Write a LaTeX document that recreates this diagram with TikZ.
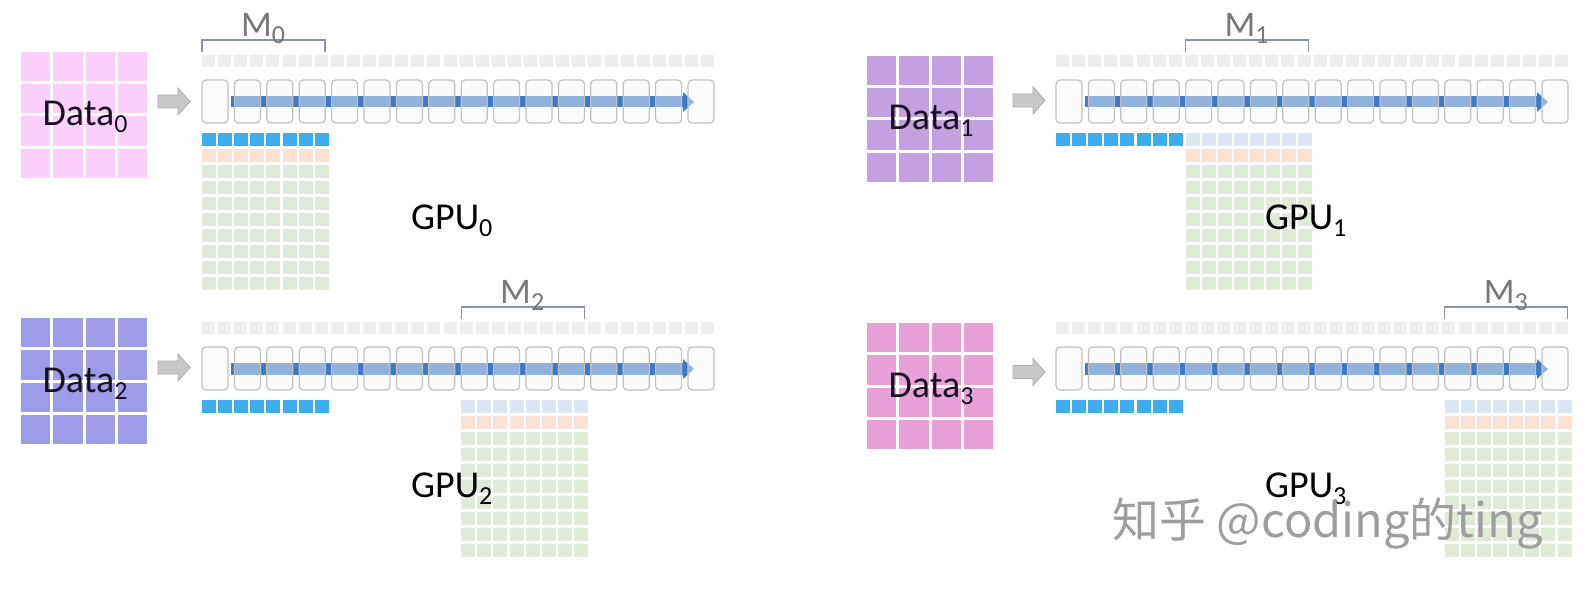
\documentclass[tikz,border=0pt]{standalone}
\usepackage{fontspec}
\setmainfont{Carlito}
\newfontfamily\cjkfont{Noto Sans CJK SC}
\usetikzlibrary{arrows.meta}
\definecolor{dataA}{RGB}{252,208,252}
\definecolor{dataB}{RGB}{196,160,224}
\definecolor{dataC}{RGB}{156,156,232}
\definecolor{dataD}{RGB}{232,160,216}
\definecolor{stripgray}{RGB}{238,238,238}
\definecolor{boxborder}{RGB}{192,192,192}
\definecolor{boxfill}{RGB}{247,247,247}
\definecolor{bandblue}{RGB}{62,122,196}
\definecolor{brightblue}{RGB}{60,174,240}
\definecolor{paleblue}{RGB}{220,230,242}
\definecolor{peach}{RGB}{252,226,210}
\definecolor{palegreen}{RGB}{224,234,216}
\definecolor{bracketcol}{RGB}{138,148,168}
\definecolor{mgray}{RGB}{120,120,120}
\definecolor{arrowgray}{RGB}{200,200,200}
\definecolor{arrowedge}{RGB}{172,172,172}
\definecolor{textdark}{RGB}{25,15,35}
\definecolor{wmgray}{RGB}{158,158,158}
\tikzset{
  boxst/.style={draw=boxborder, line width=1.2pt, rounded corners=4pt, fill=boxfill, fill opacity=0.45, minimum width=26pt, minimum height=43pt, inner sep=0pt},
  bigtext/.style={font=\fontsize{38}{42}\selectfont, inner sep=0pt},
  mtext/.style={font=\fontsize{36}{40}\selectfont, inner sep=0pt},
  bandst/.style={draw=bandblue, line width=11pt, -{Triangle[length=11pt,width=19pt]}},
  bracketst/.style={draw=bracketcol, line width=1.3pt},
  garrow/.style={fill=arrowgray, draw=arrowedge, line width=0.8pt},
}
\newcommand{\subdig}[1]{\raisebox{-7pt}{\fontsize{26}{26}\selectfont #1}}
% #1 px, #2 py, #3 k, #4 data colour, #5 data x, #6 data y, #7 arrow x, #8 arrow y, #9 index
\newcommand{\drawpanel}[9]{%
  \pgfmathsetmacro{\mx}{#1+4*#3*32.4}%
  % data square
  \foreach \i in {0,...,3}{\foreach \j in {0,...,3}{
    \fill[#4] ({#5+\i*32.25},{#6+\j*32.25}) rectangle ++(29.25,29.25);}}
  \node[bigtext, text=textdark, anchor=base] (data#9) at ({#5+64},{#6+74}) {Data\subdig{#9}};
  % gray block arrow
  \path[garrow] (#7,{#8-6.5}) -- ({#7+20},{#8-6.5}) -- ({#7+20},{#8-13.5}) -- ({#7+32},#8)
     -- ({#7+20},{#8+13.5}) -- ({#7+20},{#8+6.5}) -- (#7,{#8+6.5}) -- cycle;
  % top strip
  \foreach \j in {0,...,31}{\fill[stripgray] ({#1+\j*16.1},{#2+55}) rectangle ++(13,12);}
  % band
  \coordinate (s#9) at ({#1+29},{#2+102});
  \coordinate (e#9) at ({#1+492},{#2+102});
  \draw[bandst] (s#9) -- (e#9);
  % boxes
  \foreach \i in {0,...,15}{\node[boxst] (b#9-\i) at ({#1+\i*32.4+13},{#2+101.5}) {};}
  % bracket and label
  \draw[bracketst] (\mx,{#2+52}) -- (\mx,{#2+40}) -- ({\mx+123},{#2+40}) -- ({\mx+123},{#2+52});
  \node[mtext, text=mgray, anchor=base] (m#9) at ({\mx+61},{#2+37}) {M\subdig{#9}};
  % bright blue row
  \foreach \j in {0,...,7}{\fill[brightblue] ({#1+\j*16.1},{#2+133}) rectangle ++(14,13);}
  \ifnum#3>0 \foreach \j in {0,...,7}{\fill[paleblue] ({\mx+\j*16.1},{#2+133}) rectangle ++(14,13);}\fi
  \foreach \j in {0,...,7}{\fill[peach] ({\mx+\j*16.1},{#2+149}) rectangle ++(14,13);}
  \foreach \r in {0,...,7}{\foreach \j in {0,...,7}{
    \fill[palegreen] ({\mx+\j*16.1},{#2+165+\r*16}) rectangle ++(14,13);}}
  \node[bigtext, text=black, anchor=base west] (gpu#9) at ({#1+209},{#2+230}) {GPU\subdig{#9}};
}
\begin{document}
\begin{tikzpicture}[x=1pt,y=-1pt]
\useasboundingbox (0,0) rectangle (1587,593);
\fill[white] (0,0) rectangle (1587,593);
\drawpanel{202}{0}{0}{dataA}{21}{52}{158}{101.5}{0}
\drawpanel{1056}{0}{1}{dataB}{867}{56}{1013}{100.5}{1}
\drawpanel{202}{267}{2}{dataC}{21}{318}{158}{367.5}{2}
\drawpanel{1056}{267}{3}{dataD}{867}{323}{1013}{372}{3}
\node[text=wmgray, font=\cjkfont\fontsize{47}{52}\selectfont, anchor=base west, inner sep=0pt] (wm) at (1112,537) {知乎 @coding的ting};
\end{tikzpicture}
\end{document}
